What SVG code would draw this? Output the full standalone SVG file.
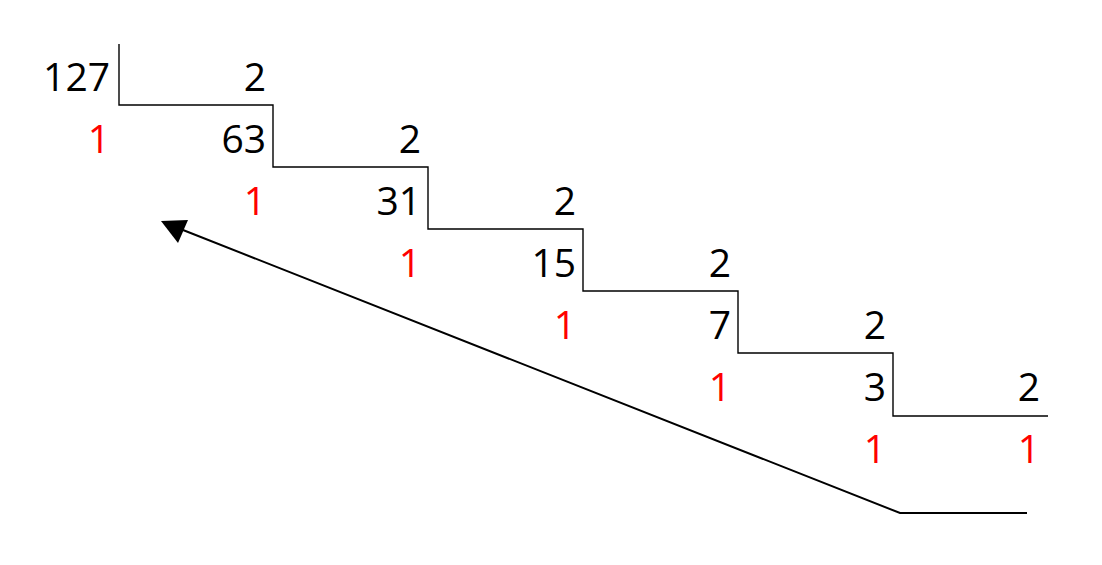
<svg xmlns="http://www.w3.org/2000/svg" width="1102" height="565" viewBox="0 0 1102 565">
<defs>
<style>
text{font-family:"Open Sans","Liberation Sans",sans-serif;font-size:39px;text-anchor:end}
.k{fill:#000}
.r{fill:#ff0000}
.s{fill:none;stroke:#000;stroke-width:1.4}
.a{fill:none;stroke:#000;stroke-width:2}
</style>
<marker id="ah" markerWidth="12" markerHeight="10" refX="11" refY="5" orient="auto" markerUnits="userSpaceOnUse" viewBox="0 0 12 10">
<path d="M0,0 L12,5 L0,10 Z" fill="#000"/>
</marker>
</defs>
<rect width="1102" height="565" fill="#fff"/>
<g id="connectors">
<path class="s" d="M119,44 V105 H273 V167 H428 V229 H583 V291 H738 V353 H893 V416 H1048"/>
<path class="a" d="M1027,513 H900 L183,230"/>
<path d="M161,221 L188,220 L178,243 Z" fill="#000"/>
</g>
<g id="row1"><text class="k" x="110" y="91">127</text><text class="k" x="266" y="91">2</text></g>
<g id="row2"><text class="r" x="110" y="153">1</text><text class="k" x="266" y="153">63</text><text class="k" x="421" y="153">2</text></g>
<g id="row3"><text class="r" x="266" y="215">1</text><text class="k" x="421" y="215">31</text><text class="k" x="576" y="215">2</text></g>
<g id="row4"><text class="r" x="421" y="277">1</text><text class="k" x="576" y="277">15</text><text class="k" x="731" y="277">2</text></g>
<g id="row5"><text class="r" x="576" y="339">1</text><text class="k" x="731" y="339">7</text><text class="k" x="886" y="339">2</text></g>
<g id="row6"><text class="r" x="731" y="401">1</text><text class="k" x="886" y="401">3</text><text class="k" x="1040" y="401">2</text></g>
<g id="row7"><text class="r" x="886" y="463">1</text><text class="r" x="1040" y="463">1</text></g>
</svg>
